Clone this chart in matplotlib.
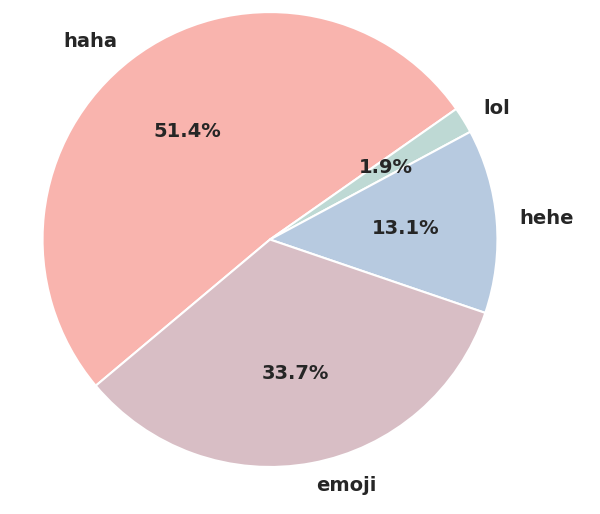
import matplotlib
matplotlib.use("Agg")
import matplotlib.pyplot as plt

labels = ["haha", "lol", "hehe", "emoji"]
values = [51.38, 1.88, 13.08, 33.66]
colors = ["#f9b4ae", "#bed9d4", "#b7cae0", "#d8bec5"]

fig = plt.figure(figsize=(6.0, 5.14), dpi=100)
ax = fig.add_axes([0.07, 0.0915, 0.76, 0.885])
wedges, texts, autotexts = ax.pie(
    values, labels=labels, colors=colors, autopct="%1.1f%%",
    startangle=220, counterclock=False,
    wedgeprops=dict(edgecolor="white", linewidth=1.5),
    textprops=dict(fontsize=14, fontweight="bold", color="#262626"),
)
ax.set_xlim(-1, 1)
ax.set_ylim(-1, 1)
ax.set_aspect("equal")
fig.savefig("out.png", dpi=100)
